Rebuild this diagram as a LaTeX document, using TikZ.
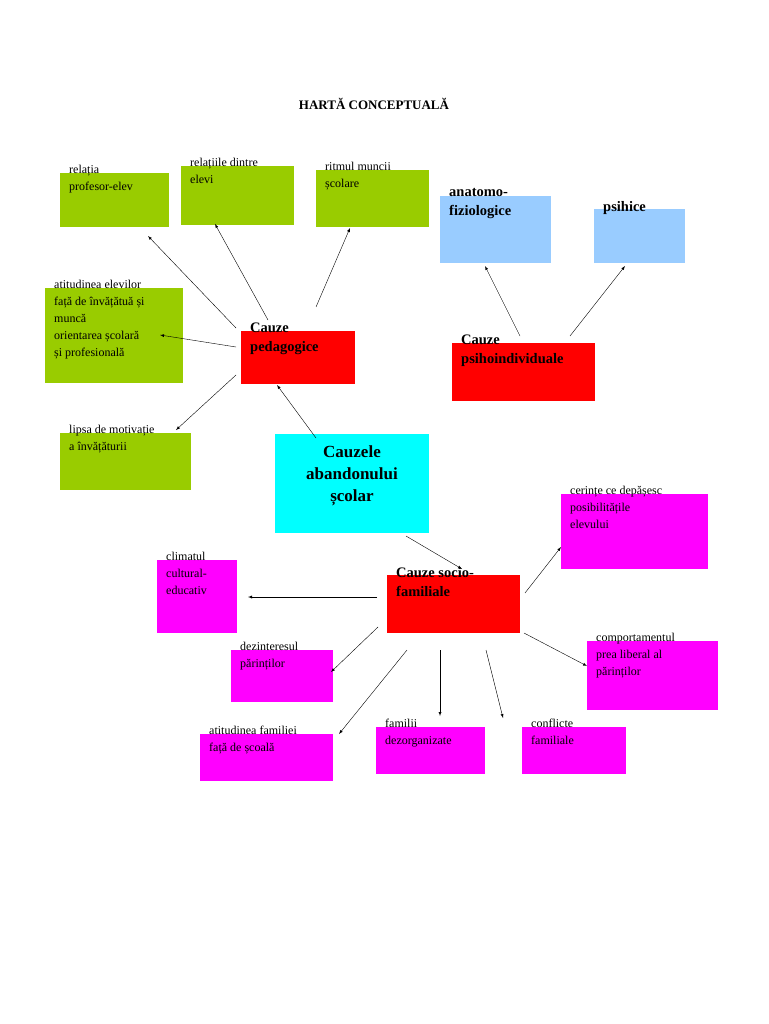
\documentclass[tikz,border=0pt]{standalone}
\usepackage{fontspec}
\setmainfont{Liberation Serif}
\definecolor{gr}{HTML}{99CC00}
\definecolor{cy}{HTML}{00FFFF}
\definecolor{rd}{HTML}{FF0000}
\definecolor{mg}{HTML}{FF00FF}
\definecolor{bl}{HTML}{99CCFF}
\tikzset{arr/.style={-latex, thin, black}, txt/.style={anchor=north west, align=left, inner sep=0pt, font=\fontsize{12}{17}\selectfont}, btxt/.style={anchor=north west, align=left, inner sep=0pt, font=\fontsize{14.5}{19}\selectfont\bfseries}}
\newcommand\bx[7][txt]{\fill[#6] (#2,#3) rectangle (#4,#5); \coordinate (#2-#3) at (#2,#3);
  \node[#1] at ([shift={(9,-8)}]#2-#3) {#7};}
\begin{document}
\begin{tikzpicture}[x=1pt,y=-1pt]
\useasboundingbox (0,0) rectangle (768,1024);
\fill[white] (0,0) rectangle (768,1024);
\node[font=\fontsize{13}{15}\selectfont\bfseries] (title) at (374,104) {HARTĂ CONCEPTUALĂ};
\bx{60}{173}{169}{227}{gr}{relația\\profesor-elev}
\bx{181}{166}{294}{225}{gr}{relațiile dintre\\elevi}
\bx{316}{170}{429}{227}{gr}{ritmul muncii\\școlare}
\bx{45}{288}{183}{383}{gr}{atitudinea elevilor\\față de învățătuă și\\muncă\\orientarea școlară\\și profesională}
\bx{60}{433}{191}{490}{gr}{lipsa de motivație\\a învățăturii}
\bx[btxt]{241}{331}{355}{384}{rd}{\mdseries\bfseries Cauze\\pedagogice}
\fill[cy] (275,434) rectangle (429,533);
\node[align=center, font=\fontsize{17}{22}\selectfont\bfseries] (central) at (352,476) {Cauzele\\abandonului\\școlar};
\bx[btxt]{440}{196}{551}{263}{bl}{anatomo-\\fiziologice}
\bx[btxt]{594}{209}{685}{263}{bl}{psihice}
\bx[btxt]{452}{343}{595}{401}{rd}{Cauze\\psihoindividuale}
\bx[btxt]{387}{575}{520}{633}{rd}{Cauze socio-\\familiale}
\bx{561}{494}{708}{569}{mg}{cerințe ce depășesc\\posibilitățile\\elevului}
\bx{157}{560}{237}{633}{mg}{climatul\\cultural-\\educativ}
\bx{231}{650}{333}{702}{mg}{dezinteresul\\părinților}
\bx{587}{641}{718}{710}{mg}{comportamentul\\prea liberal al\\părinților}
\bx{200}{734}{333}{781}{mg}{atitudinea familiei\\față de școală}
\bx{376}{727}{485}{774}{mg}{familii\\dezorganizate}
\bx{522}{727}{626}{774}{mg}{conflicte\\familiale}
\foreach \a/\b/\c/\d in {236/328/148/236, 268/320/215/224, 316/307/350/228, 236/347/160/335, 236/375/176/430, 316/438/277/385, 520/336/485/266, 570/336/625/266, 406/536/462/569, 377/597/248/597, 525/593/561/547, 524/633/587/666, 378/627/331/672, 407/650/339/734, 440/650/440/716, 486/650/503/718}{
  \coordinate (s) at (\a,\b); \coordinate (e) at (\c,\d); \draw[arr] (s) -- (e);}
\end{tikzpicture}
\end{document}
